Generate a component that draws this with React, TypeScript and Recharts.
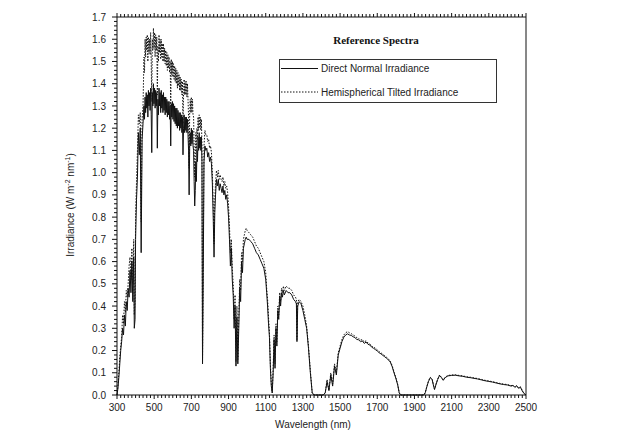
import React from 'react';
import { LineChart, Line, XAxis, YAxis, Legend } from 'recharts';

// Wavelength (nm)
const wavelength = [
  300, 305, 310, 315, 320, 325, 330, 335, 340, 345, 350, 355, 360, 365, 370, 375, 380, 385, 390, 393, 397, 400, 405, 410, 415, 420, 425, 430, 435, 440,
  445, 448, 451, 454, 457, 460, 463, 466, 469, 472, 475, 478, 481, 484, 487, 490, 493, 496, 499, 502, 505, 508, 511, 514, 517, 520, 523, 526, 529, 532, 535, 538, 541, 544, 547,
  550, 553, 556, 559, 562, 565, 568, 571, 574, 577, 580, 583, 586, 589, 592, 595, 598, 601, 604, 607, 610, 613, 616, 619, 622, 625, 628, 631, 634, 637, 640, 643, 646, 649,
  652, 655, 658, 661, 664, 667, 670, 673, 676, 679, 682, 685, 688, 691, 694, 697, 700, 703, 706, 709, 712, 715, 718, 721, 724, 727, 730, 733, 736, 739, 742, 745, 748, 751, 754, 757,
  760, 764, 768, 773, 778, 783, 788, 793, 798, 803, 808, 813, 818, 822, 826, 830, 835, 840, 845, 850, 855, 860, 865, 870, 875, 880, 885, 890, 895, 900,
  905, 910, 915, 920, 925, 930, 935, 940, 945, 950, 955, 960, 965, 970, 975, 980, 985, 990, 995, 1000,
  1010, 1020, 1030, 1040, 1050, 1060, 1070, 1080, 1090, 1100, 1105, 1110, 1115, 1120, 1125, 1130, 1135, 1140, 1145, 1150, 1155, 1160, 1165, 1170, 1175, 1180, 1185, 1190, 1195, 1200,
  1210, 1220, 1230, 1240, 1250, 1260, 1265, 1268, 1272, 1280, 1290, 1300, 1310, 1320, 1330, 1340, 1350, 1360,
  1410, 1420, 1430, 1440, 1450, 1460, 1470, 1480, 1490, 1500, 1510, 1520, 1530, 1540, 1550, 1560, 1570, 1580, 1590, 1600,
  1610, 1620, 1630, 1640, 1650, 1660, 1670, 1680, 1690, 1700, 1710, 1720, 1730, 1740, 1750, 1760, 1770, 1780, 1790, 1800, 1810, 1818, 1825,
  1950, 1958, 1966, 1975, 1985, 1995, 2003, 2008, 2015, 2025, 2035, 2045, 2055, 2065, 2080, 2100,
  2120, 2140, 2160, 2180, 2200, 2220, 2240, 2260, 2280, 2300, 2320, 2340, 2360, 2380, 2400, 2420, 2430, 2440, 2450, 2460, 2470, 2480, 2490, 2500,
];

// Direct Normal Irradiance (W m-2 nm-1)
const directNormal = [
  0, 0.03, 0.08, 0.14, 0.2, 0.24, 0.3, 0.27, 0.36, 0.31, 0.42, 0.38, 0.48, 0.44, 0.56, 0.46, 0.6, 0.42, 0.62, 0.3, 0.34, 0.7, 0.88, 0.98, 1.18, 1.08, 1.2, 0.64, 1.15, 1.22,
  1.3, 1.24, 1.34, 1.27, 1.36, 1.29, 1.35, 1.25, 1.37, 1.3, 1.36, 1.28, 1.38, 1.26, 1.09, 1.36, 1.3, 1.4, 1.31, 1.38, 1.29, 1.37, 1.3, 1.36, 1.11, 1.33, 1.26, 1.38, 1.3, 1.36, 1.27, 1.37, 1.29, 1.35, 1.27,
  1.36, 1.28, 1.34, 1.26, 1.34, 1.27, 1.33, 1.25, 1.32, 1.26, 1.32, 1.24, 1.3, 1.12, 1.31, 1.25, 1.32, 1.24, 1.31, 1.23, 1.3, 1.22, 1.29, 1.21, 1.29, 1.2, 1.28, 1.21, 1.27, 1.19, 1.27, 1.2, 1.26, 1.18,
  1.25, 1.08, 1.2, 1.26, 1.18, 1.25, 1.19, 1.25, 1.18, 1.24, 1.17, 1.1, 0.9, 1.12, 1.18, 1.12, 1.2, 1.13, 1.19, 1.12, 1.1, 0.96, 0.85, 0.92, 1.05, 0.96, 1.1, 1.05, 1.16, 1.1, 1.18, 1.11, 1.16, 1.1, 1.16, 1.05,
  0.14, 0.55, 1.05, 1.12, 1.1, 1.11, 1.07, 1.09, 1.05, 1.07, 1.04, 0.95, 0.78, 0.62, 0.82, 0.9, 0.97, 0.94, 0.97, 0.92, 0.95, 0.93, 0.91, 0.94, 0.9, 0.92, 0.88, 0.9, 0.86, 0.8,
  0.7, 0.58, 0.66, 0.52, 0.45, 0.3, 0.4, 0.13, 0.35, 0.14, 0.3, 0.48, 0.42, 0.6, 0.55, 0.66, 0.68, 0.7, 0.71, 0.7,
  0.7, 0.69, 0.68, 0.66, 0.64, 0.63, 0.61, 0.59, 0.57, 0.52, 0.46, 0.4, 0.32, 0.26, 0.12, 0.04, 0.01, 0.1, 0.25, 0.12, 0.3, 0.22, 0.38, 0.34, 0.44, 0.4, 0.46, 0.44, 0.47, 0.45,
  0.47, 0.46, 0.46, 0.45, 0.43, 0.42, 0.41, 0.24, 0.4, 0.42, 0.41, 0.38, 0.34, 0.3, 0.21, 0.1, 0.01, 0,
  0, 0.01, 0.06, 0.02, 0.09, 0.04, 0.13, 0.09, 0.18, 0.21, 0.24, 0.26, 0.27, 0.275, 0.27, 0.268, 0.262, 0.258, 0.25, 0.248,
  0.24, 0.243, 0.232, 0.238, 0.228, 0.225, 0.215, 0.21, 0.204, 0.198, 0.19, 0.185, 0.178, 0.172, 0.165, 0.158, 0.148, 0.128, 0.1, 0.075, 0.045, 0.01, 0,
  0, 0.01, 0.035, 0.06, 0.078, 0.07, 0.04, 0.025, 0.045, 0.07, 0.088, 0.078, 0.066, 0.078, 0.086, 0.088,
  0.089, 0.086, 0.084, 0.08, 0.078, 0.075, 0.072, 0.068, 0.064, 0.061, 0.058, 0.054, 0.05, 0.047, 0.045, 0.04, 0.043, 0.034, 0.041, 0.03, 0.035, 0.018, 0.006, 0,
];

// Hemispherical Tilted Irradiance (W m-2 nm-1)
const hemisphericalTilted = [
  0, 0.04, 0.1, 0.17, 0.22, 0.26, 0.36, 0.32, 0.42, 0.37, 0.47, 0.44, 0.5, 0.58, 0.62, 0.52, 0.66, 0.5, 0.7, 0.36, 0.42, 0.8, 0.96, 1.1, 1.26, 1.22, 1.27, 0.78, 1.24, 1.3,
  1.52, 1.45, 1.6, 1.52, 1.61, 1.55, 1.62, 1.5, 1.61, 1.54, 1.6, 1.53, 1.63, 1.5, 1.32, 1.6, 1.55, 1.65, 1.56, 1.63, 1.52, 1.62, 1.55, 1.61, 1.35, 1.57, 1.5, 1.62, 1.54, 1.6, 1.51, 1.6, 1.52, 1.58, 1.5,
  1.58, 1.5, 1.56, 1.49, 1.55, 1.48, 1.54, 1.46, 1.53, 1.47, 1.52, 1.45, 1.5, 1.3, 1.51, 1.44, 1.5, 1.43, 1.49, 1.42, 1.48, 1.41, 1.47, 1.4, 1.46, 1.38, 1.45, 1.39, 1.44, 1.37, 1.43, 1.37, 1.42, 1.35,
  1.41, 1.22, 1.36, 1.42, 1.35, 1.41, 1.35, 1.41, 1.34, 1.4, 1.33, 1.25, 1.02, 1.27, 1.33, 1.27, 1.34, 1.27, 1.33, 1.26, 1.25, 1.1, 0.98, 1.05, 1.18, 1.1, 1.2, 1.15, 1.25, 1.19, 1.26, 1.2, 1.25, 1.19, 1.24, 1.12,
  0.16, 0.6, 1.12, 1.19, 1.17, 1.17, 1.14, 1.15, 1.11, 1.12, 1.09, 1.0, 0.84, 0.68, 0.88, 0.95, 1.01, 0.98, 1.01, 0.97, 0.99, 0.97, 0.96, 0.98, 0.94, 0.96, 0.93, 0.94, 0.91, 0.85,
  0.76, 0.64, 0.7, 0.57, 0.5, 0.34, 0.45, 0.15, 0.4, 0.16, 0.34, 0.52, 0.47, 0.64, 0.6, 0.7, 0.72, 0.74, 0.75, 0.74,
  0.73, 0.72, 0.71, 0.69, 0.67, 0.66, 0.64, 0.62, 0.6, 0.55, 0.48, 0.43, 0.35, 0.28, 0.14, 0.05, 0.01, 0.12, 0.27, 0.14, 0.32, 0.24, 0.4, 0.36, 0.46, 0.42, 0.48, 0.46, 0.49, 0.47,
  0.49, 0.48, 0.48, 0.47, 0.45, 0.44, 0.43, 0.25, 0.42, 0.43, 0.42, 0.4, 0.36, 0.31, 0.22, 0.11, 0.01, 0,
  0, 0.01, 0.07, 0.02, 0.1, 0.05, 0.14, 0.1, 0.19, 0.22, 0.25, 0.27, 0.28, 0.285, 0.28, 0.276, 0.27, 0.265, 0.258, 0.255,
  0.246, 0.25, 0.238, 0.244, 0.234, 0.23, 0.22, 0.215, 0.21, 0.203, 0.195, 0.19, 0.183, 0.177, 0.17, 0.162, 0.152, 0.132, 0.104, 0.078, 0.047, 0.01, 0,
  0, 0.01, 0.037, 0.062, 0.08, 0.072, 0.042, 0.026, 0.047, 0.072, 0.09, 0.08, 0.068, 0.08, 0.088, 0.09,
  0.091, 0.088, 0.086, 0.082, 0.08, 0.077, 0.074, 0.07, 0.066, 0.063, 0.06, 0.056, 0.052, 0.049, 0.047, 0.042, 0.045, 0.036, 0.043, 0.032, 0.037, 0.02, 0.007, 0,
];

const xMajorTicks = [300, 500, 700, 900, 1100, 1300, 1500, 1700, 1900, 2100, 2300, 2500];
const yMajorTicks = [0, 0.1, 0.2, 0.3, 0.4, 0.5, 0.6, 0.7, 0.8, 0.9, 1.0, 1.1, 1.2, 1.3, 1.4, 1.5, 1.6, 1.7];

const seriesNames = ['Direct Normal Irradiance', 'Hemispherical Tilted Irradiance'];
const chartTitle = 'Reference Spectra';

const data = wavelength.map((w, i) => ({
  wl: w,
  direct: directNormal[i],
  tilted: hemisphericalTilted[i],
}));

// minor tick positions (every 20 nm, every 0.02)
const xTicks: number[] = [];
for (let v = 300; v <= 2500; v += 20) xTicks.push(v);
const yTicks: number[] = [];
for (let i = 0; i <= 85; i++) yTicks.push(Math.round(i * 2) / 100);

const isMajorX = (v: number) => xMajorTicks.includes(v);
const isMajorY = (v: number) => yMajorTicks.some((m) => Math.abs(m - v) < 1e-6);

const SANS = '"Liberation Sans", Arial, Helvetica, sans-serif';
const SERIF = '"Liberation Serif", "Times New Roman", serif';
const INK = '#111';

const BottomTick = (props: any) => {
  const { x, y, payload } = props;
  const major = isMajorX(payload.value);
  return (
    <g>
      <line x1={x} x2={x} y1={y} y2={y + (major ? 4 : 3)} stroke={INK} strokeWidth={1} />
      {major && (
        <text x={x} y={y + 16} textAnchor="middle" fontSize={10} fontFamily={SANS} fill="#222">
          {payload.value}
        </text>
      )}
    </g>
  );
};

const TopTick = (props: any) => {
  const { x, y, payload } = props;
  const major = isMajorX(payload.value);
  return <line x1={x} x2={x} y1={y} y2={y - (major ? 4 : 3)} stroke={INK} strokeWidth={1} />;
};

const LeftTick = (props: any) => {
  const { x, y, payload } = props;
  const major = isMajorY(payload.value);
  return (
    <g>
      <line x1={x - (major ? 5 : 3)} x2={x} y1={y} y2={y} stroke={INK} strokeWidth={1} />
      {major && (
        <text x={x - 11} y={y + 3.6} textAnchor="end" fontSize={10} fontFamily={SANS} fill="#222">
          {Number(payload.value).toFixed(1)}
        </text>
      )}
    </g>
  );
};

const RightTick = (props: any) => {
  const { x, y, payload } = props;
  const major = isMajorY(payload.value);
  return <line x1={x} x2={x + (major ? 4 : 3)} y1={y} y2={y} stroke={INK} strokeWidth={1} />;
};

const YLabel = () => (
  <text
    x={74}
    y={205}
    transform="rotate(-90, 74, 205)"
    textAnchor="middle"
    fontSize={10}
    fontFamily={SANS}
    fill="#222"
  >
    Irradiance (W m
    <tspan dy={-4} fontSize={7}>-2</tspan>
    <tspan dy={4}> nm</tspan>
    <tspan dy={-4} fontSize={7}>-1</tspan>
    <tspan dy={4}>)</tspan>
  </text>
);

const XLabel = () => (
  <text x={313} y={428} textAnchor="middle" fontSize={10} fontFamily={SANS} fill="#222">
    Wavelength (nm)
  </text>
);

const LegendContent = (props: any) => {
  const payload = props.payload || [];
  const entries = seriesNames.map((name, i) => {
    const p = payload.find((e: any) => e.value === name);
    return { name, dash: p && p.payload ? p.payload.strokeDasharray : i === 1 ? '1.5 1.5' : undefined };
  });
  return (
    <svg width={240} height={75} style={{ display: 'block' }}>
      <text x={106} y={13.5} textAnchor="middle" fontSize={11} fontWeight="bold" fontFamily={SERIF} fill="#111">
        {chartTitle}
      </text>
      <rect x={9.5} y={29.5} width={217} height={43} fill="#fff" stroke="#333" strokeWidth={1} />
      {entries.map((e, i) => (
        <g key={e.name}>
          <line
            x1={11}
            x2={48}
            y1={38.5 + i * 23.5}
            y2={38.5 + i * 23.5}
            stroke={INK}
            strokeWidth={1}
            strokeDasharray={e.dash}
          />
          <text x={51} y={42 + i * 23.5} fontSize={10} fontFamily={SANS} fill="#222">
            {e.name}
          </text>
        </g>
      ))}
    </svg>
  );
};

export default function App() {
  return (
    <div style={{ position: 'absolute', left: 0, top: 0, width: 630, height: 440, background: '#fff' }}>
      <LineChart
        width={630}
        height={440}
        data={data}
        margin={{ top: 16, right: 103, bottom: 0, left: 0 }}
      >
        <XAxis
          xAxisId="bottom"
          dataKey="wl"
          type="number"
          domain={[300, 2500]}
          ticks={xTicks}
          interval={0}
          height={45}
          tickSize={0}
          tickMargin={0}
          tickLine={false}
          axisLine={{ stroke: INK, strokeWidth: 1 }}
          tick={<BottomTick />}
          label={<XLabel />}
        />
        <XAxis
          xAxisId="top"
          orientation="top"
          dataKey="wl"
          type="number"
          domain={[300, 2500]}
          ticks={xTicks}
          interval={0}
          height={1}
          tickSize={0}
          tickMargin={0}
          tickLine={false}
          axisLine={{ stroke: INK, strokeWidth: 1 }}
          tick={<TopTick />}
        />
        <YAxis
          yAxisId="left"
          type="number"
          domain={[0, 1.7]}
          ticks={yTicks}
          interval={0}
          width={117}
          tickSize={0}
          tickMargin={0}
          tickLine={false}
          axisLine={{ stroke: INK, strokeWidth: 1 }}
          tick={<LeftTick />}
          label={<YLabel />}
        />
        <YAxis
          yAxisId="right"
          orientation="right"
          type="number"
          domain={[0, 1.7]}
          ticks={yTicks}
          interval={0}
          width={1}
          tickSize={0}
          tickMargin={0}
          tickLine={false}
          axisLine={{ stroke: INK, strokeWidth: 1 }}
          tick={<RightTick />}
        />
        <Legend
          layout="horizontal"
          verticalAlign="middle"
          align="center"
          content={<LegendContent />}
          wrapperStyle={{ position: 'absolute', left: 270, top: 30, width: 240, height: 75, bottom: 'auto', right: 'auto' }}
        />
        <Line
          xAxisId="bottom"
          yAxisId="left"
          name={seriesNames[0]}
          dataKey="direct"
          type="linear"
          stroke={INK}
          strokeWidth={1}
          dot={false}
          activeDot={false}
          isAnimationActive={false}
        />
        <Line
          xAxisId="bottom"
          yAxisId="left"
          name={seriesNames[1]}
          dataKey="tilted"
          type="linear"
          stroke={INK}
          strokeWidth={1}
          strokeDasharray="1.5 1.5"
          dot={false}
          activeDot={false}
          isAnimationActive={false}
        />
      </LineChart>
    </div>
  );
}
